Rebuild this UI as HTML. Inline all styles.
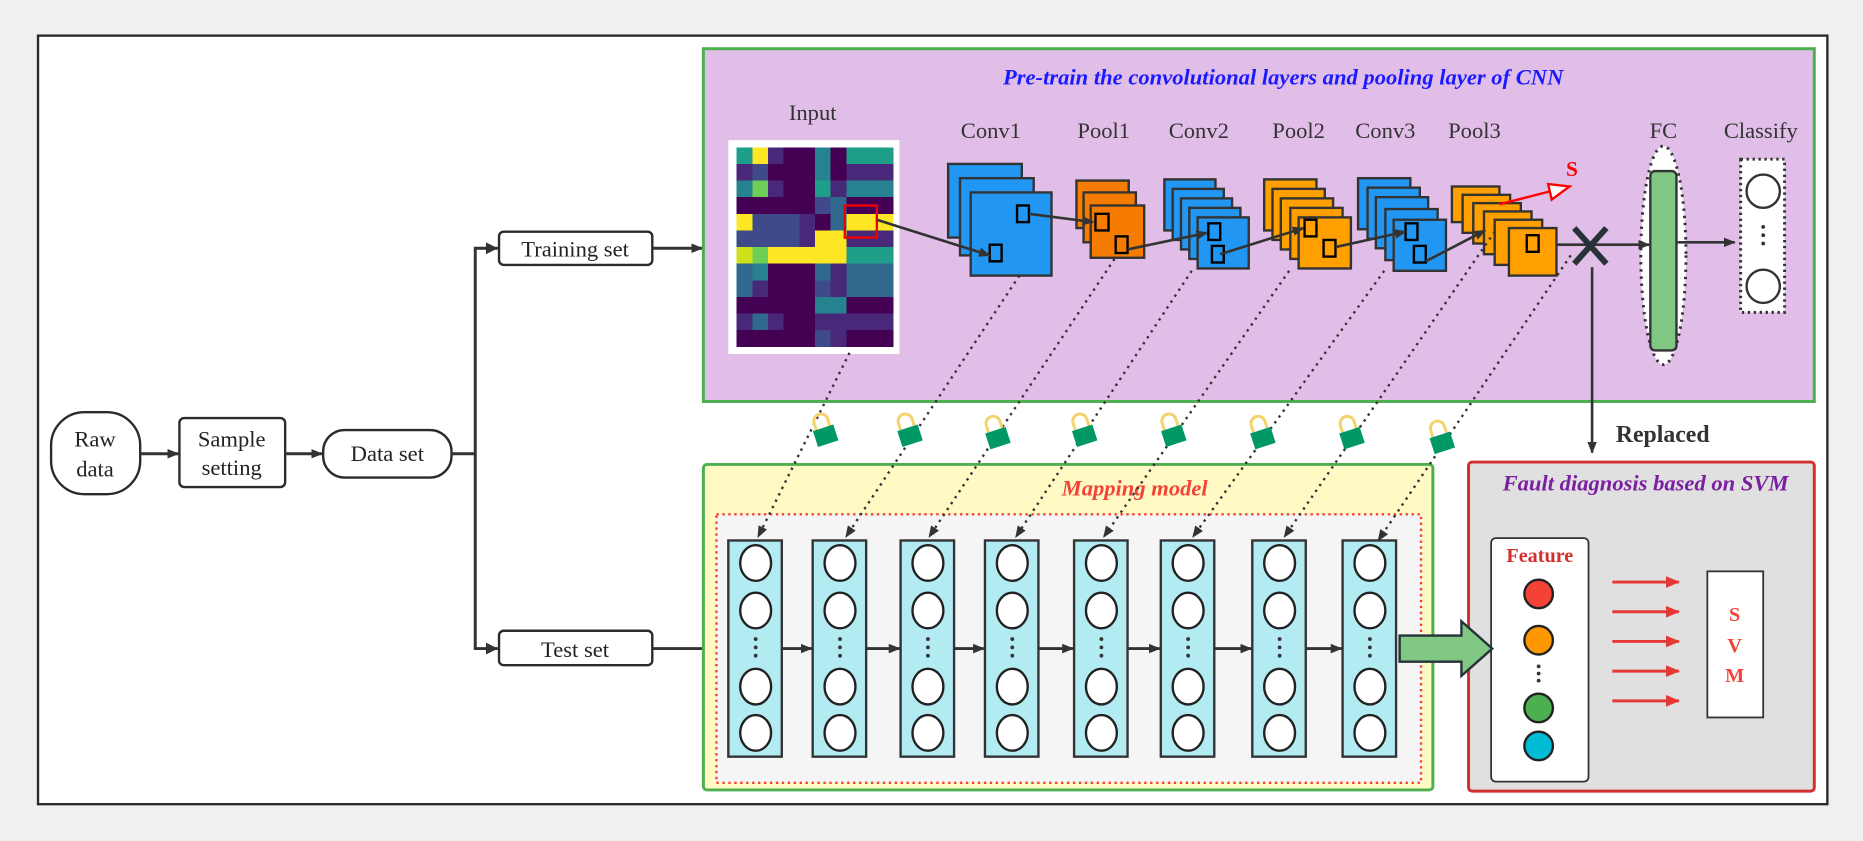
<!DOCTYPE html>
<html><head><meta charset="utf-8"><style>
html,body{margin:0;padding:0;background:#f0f0f0;}
svg{display:block;}
text{font-family:"Liberation Serif",serif;}
</style></head><body>
<svg width="1863" height="841" viewBox="0 0 1568 708" preserveAspectRatio="none" xmlns="http://www.w3.org/2000/svg">
<defs>
<marker id="a" markerWidth="10" markerHeight="8" refX="9" refY="4" orient="auto" markerUnits="userSpaceOnUse"><path d="M0,0 L10,4 L0,8 Z" fill="#333"/></marker>
<marker id="r" markerWidth="12" markerHeight="10" refX="11" refY="5" orient="auto" markerUnits="userSpaceOnUse"><path d="M0,0 L12,5 L0,10 Z" fill="#e53935"/></marker>
<g id="lock"><path d="M-6,-4 v-6 a6,6 0 0 1 12,0 v6" fill="none" stroke="#f5d36b" stroke-width="2.5"/><rect x="-9" y="-4" width="18" height="14" fill="#009966"/></g>
</defs>
<rect width="1568" height="708" fill="#f0f0f0"/>
<rect x="32" y="30" width="1506" height="647" fill="#fff" stroke="#2b2b2b" stroke-width="2"/>

<!-- left flow -->
<rect x="43" y="347" width="75" height="69" rx="28" fill="#fff" stroke="#2b2b2b" stroke-width="2"/>
<text x="80" y="376" font-size="19" text-anchor="middle" fill="#222">Raw</text>
<text x="80" y="401" font-size="19" text-anchor="middle" fill="#222">data</text>
<rect x="151" y="352" width="89" height="58" rx="4" fill="#fff" stroke="#2b2b2b" stroke-width="2"/>
<text x="195" y="376" font-size="19" text-anchor="middle" fill="#222">Sample</text>
<text x="195" y="400" font-size="19" text-anchor="middle" fill="#222">setting</text>
<rect x="272" y="362" width="108" height="40" rx="18" fill="#fff" stroke="#2b2b2b" stroke-width="2"/>
<text x="326" y="388" font-size="19" text-anchor="middle" fill="#222">Data set</text>
<line x1="118" y1="382" x2="150" y2="382" stroke="#333" stroke-width="2.5" marker-end="url(#a)"/>
<line x1="240" y1="382" x2="271" y2="382" stroke="#333" stroke-width="2.5" marker-end="url(#a)"/>
<path d="M380,382 H400 V209 H419 M400,382 V546 H419" fill="none" stroke="#333" stroke-width="2.5"/>
<path d="M409,204 L419,209 L409,214Z M409,541 L419,546 L409,551Z" fill="#333"/>
<rect x="420" y="195" width="129" height="28" rx="4" fill="#fff" stroke="#2b2b2b" stroke-width="2"/>
<text x="484" y="216" font-size="19" text-anchor="middle" fill="#222">Training set</text>
<rect x="420" y="531" width="129" height="29" rx="4" fill="#fff" stroke="#2b2b2b" stroke-width="2"/>
<text x="484" y="553" font-size="19" text-anchor="middle" fill="#222">Test set</text>
<line x1="549" y1="209" x2="591" y2="209" stroke="#333" stroke-width="2.5" marker-end="url(#a)"/>
<line x1="549" y1="546" x2="602" y2="546" stroke="#333" stroke-width="2.5" marker-end="url(#a)"/>

<!-- purple box -->
<rect x="592" y="41" width="935" height="297" fill="#e1bee7" stroke="#4caf50" stroke-width="2.5"/>
<text x="1080" y="71" font-size="19" font-weight="bold" font-style="italic" text-anchor="middle" fill="#1a1aff">Pre-train the convolutional layers and pooling layer of CNN</text>
<g font-size="19" fill="#333" text-anchor="middle">
<text x="684" y="101">Input</text><text x="834" y="116">Conv1</text><text x="929" y="116">Pool1</text><text x="1009" y="116">Conv2</text><text x="1093" y="116">Pool2</text><text x="1166" y="116">Conv3</text><text x="1241" y="116">Pool3</text><text x="1400" y="116">FC</text><text x="1482" y="116">Classify</text>
</g>

<!-- heatmap -->
<rect x="613" y="118" width="144" height="180" fill="#fff"/>
<g transform="translate(620,124) scale(13.2,14)" shape-rendering="crispEdges">
<rect x="0" y="0" width="10" height="12" fill="#440154"/>
<rect x="0" y="0" width="1" height="1" fill="#1f9e89"/><rect x="1" y="0" width="1" height="1" fill="#fde725"/><rect x="2" y="0" width="1" height="1" fill="#482878"/><rect x="5" y="0" width="1" height="1" fill="#26828e"/><rect x="7" y="0" width="3" height="1" fill="#1f9e89"/>
<rect x="0" y="1" width="1" height="1" fill="#482878"/><rect x="1" y="1" width="1" height="1" fill="#3e4a89"/><rect x="5" y="1" width="1" height="1" fill="#26828e"/><rect x="7" y="1" width="3" height="1" fill="#482878"/>
<rect x="0" y="2" width="1" height="1" fill="#26828e"/><rect x="1" y="2" width="1" height="1" fill="#6ece58"/><rect x="2" y="2" width="1" height="1" fill="#482878"/><rect x="5" y="2" width="1" height="1" fill="#1f9e89"/><rect x="6" y="2" width="1" height="1" fill="#482878"/><rect x="7" y="2" width="3" height="1" fill="#26828e"/>
<rect x="5" y="3" width="1" height="1" fill="#3e4a89"/><rect x="6" y="3" width="1" height="1" fill="#31688e"/>
<rect x="0" y="4" width="1" height="1" fill="#fde725"/><rect x="1" y="4" width="3" height="1" fill="#3e4a89"/><rect x="4" y="4" width="1" height="1" fill="#482878"/><rect x="6" y="4" width="1" height="1" fill="#31688e"/><rect x="7" y="4" width="3" height="1" fill="#fde725"/>
<rect x="0" y="5" width="4" height="1" fill="#3e4a89"/><rect x="4" y="5" width="1" height="1" fill="#482878"/><rect x="5" y="5" width="2" height="1" fill="#fde725"/><rect x="7" y="5" width="3" height="1" fill="#482878"/>
<rect x="0" y="6" width="1" height="1" fill="#d0e11c"/><rect x="1" y="6" width="1" height="1" fill="#6ece58"/><rect x="2" y="6" width="5" height="1" fill="#fde725"/><rect x="7" y="6" width="3" height="1" fill="#1f9e89"/>
<rect x="0" y="7" width="1" height="1" fill="#31688e"/><rect x="1" y="7" width="1" height="1" fill="#26828e"/><rect x="5" y="7" width="1" height="1" fill="#31688e"/><rect x="6" y="7" width="1" height="1" fill="#482878"/><rect x="7" y="7" width="3" height="1" fill="#31688e"/>
<rect x="0" y="8" width="1" height="1" fill="#31688e"/><rect x="1" y="8" width="1" height="1" fill="#482878"/><rect x="5" y="8" width="1" height="1" fill="#3e4a89"/><rect x="6" y="8" width="1" height="1" fill="#482878"/><rect x="7" y="8" width="3" height="1" fill="#31688e"/>
<rect x="5" y="9" width="2" height="1" fill="#26828e"/>
<rect x="0" y="10" width="1" height="1" fill="#482878"/><rect x="1" y="10" width="1" height="1" fill="#31688e"/><rect x="2" y="10" width="1" height="1" fill="#482878"/><rect x="5" y="10" width="5" height="1" fill="#482878"/>
<rect x="5" y="11" width="1" height="1" fill="#3e4a89"/><rect x="6" y="11" width="1" height="1" fill="#482878"/>
</g>
<rect x="711" y="173" width="27" height="27" fill="none" stroke="#e00" stroke-width="2"/>

<!-- CNN blocks -->
<g stroke="#333" stroke-width="2">
<g fill="#2196f3"><rect x="798" y="138" width="62" height="62"/><rect x="808" y="150" width="62" height="65"/><rect x="817" y="162" width="68" height="70"/></g>
<g fill="#f57c00"><rect x="906" y="152" width="44" height="40"/><rect x="912" y="162" width="44" height="42"/><rect x="918" y="173" width="45" height="44"/></g>
<g fill="#2196f3"><rect x="980" y="151" width="43" height="43"/><rect x="987" y="159" width="43" height="43"/><rect x="994" y="167" width="43" height="43"/><rect x="1001" y="175" width="43" height="43"/><rect x="1008" y="183" width="43" height="43"/></g>
<g fill="#ffa000"><rect x="1064" y="151" width="44" height="43"/><rect x="1071" y="159" width="44" height="43"/><rect x="1078" y="167" width="44" height="43"/><rect x="1086" y="175" width="44" height="43"/><rect x="1093" y="183" width="44" height="43"/></g>
<g fill="#2196f3"><rect x="1143" y="150" width="44" height="43"/><rect x="1151" y="158" width="44" height="43"/><rect x="1158" y="166" width="44" height="43"/><rect x="1166" y="176" width="44" height="43"/><rect x="1173" y="185" width="44" height="43"/></g>
<g fill="#ffa000"><rect x="1222" y="157" width="40" height="30"/><rect x="1231" y="164" width="40" height="32"/><rect x="1240" y="171" width="40" height="34"/><rect x="1249" y="178" width="40" height="36"/><rect x="1258" y="185" width="40" height="38"/><rect x="1270" y="192" width="40" height="40"/></g>
</g>
<g fill="none" stroke="#000" stroke-width="2">
<rect x="856" y="173" width="10" height="14"/><rect x="833" y="206" width="10" height="14"/>
<rect x="922" y="180" width="11" height="14"/><rect x="939" y="199" width="10" height="14"/>
<rect x="1017" y="188" width="10" height="14"/><rect x="1020" y="207" width="10" height="14"/>
<rect x="1098" y="185" width="10" height="14"/><rect x="1114" y="202" width="10" height="14"/>
<rect x="1183" y="188" width="10" height="14"/><rect x="1190" y="207" width="10" height="14"/>
<rect x="1285" y="198" width="10" height="14"/>
</g>
<ellipse cx="1400" cy="215" rx="19" ry="92" fill="#fff" stroke="#333" stroke-width="2.5" stroke-dasharray="2,4"/>
<rect x="1389" y="144" width="22" height="151" rx="4" fill="#81c784" stroke="#333" stroke-width="2"/>
<g stroke="#333" stroke-width="2.2" marker-end="url(#a)">
<line x1="738" y1="185" x2="833" y2="215"/>
<line x1="866" y1="180" x2="920" y2="187"/>
<line x1="949" y1="210" x2="1016" y2="196"/>
<line x1="1027" y1="214" x2="1097" y2="192"/>
<line x1="1124" y1="208" x2="1183" y2="195"/>
<line x1="1200" y1="220" x2="1250" y2="194"/>
<line x1="1310" y1="206" x2="1388" y2="206"/>
<line x1="1412" y1="204" x2="1460" y2="204"/>
<line x1="1340" y1="225" x2="1340" y2="381"/>
</g>
<path d="M1325,192 L1352,222 M1352,192 L1325,222" stroke="#263238" stroke-width="5"/>
<line x1="1262" y1="172" x2="1305" y2="161" stroke="#f00" stroke-width="2"/>
<path d="M1303,155 L1321,157 L1306,168 Z" fill="#fff" stroke="#f00" stroke-width="2"/>
<text x="1323" y="148" font-family="Liberation Sans,sans-serif" font-size="18" font-weight="bold" fill="#f00" text-anchor="middle">S</text>
<rect x="1465" y="134" width="37" height="129" fill="#fff" stroke="#333" stroke-width="2.5" stroke-dasharray="2,3"/>
<circle cx="1484" cy="161" r="14" fill="#fff" stroke="#333" stroke-width="2"/>
<circle cx="1484" cy="241" r="14" fill="#fff" stroke="#333" stroke-width="2"/>
<g fill="#333"><circle cx="1484" cy="191" r="1.6"/><circle cx="1484" cy="198" r="1.6"/><circle cx="1484" cy="205" r="1.6"/></g>
<text x="1360" y="372" font-size="20" font-weight="bold" fill="#333">Replaced</text>

<!-- mapping box -->
<rect x="592" y="391" width="614" height="274" rx="3" fill="#fff9c4" stroke="#4caf50" stroke-width="2.5"/>
<rect x="603" y="433" width="593" height="226" fill="#f5f5f5" stroke="#f44336" stroke-width="2" stroke-dasharray="2,3"/>
<text x="955" y="417" font-size="19" font-weight="bold" font-style="italic" text-anchor="middle" fill="#f44336">Mapping model</text>
<g stroke="#333" stroke-width="2" fill="#b2ebf2">
<rect x="613" y="455" width="45" height="182"/><rect x="684" y="455" width="45" height="182"/><rect x="758" y="455" width="45" height="182"/><rect x="829" y="455" width="45" height="182"/><rect x="904" y="455" width="45" height="182"/><rect x="977" y="455" width="45" height="182"/><rect x="1054" y="455" width="45" height="182"/><rect x="1130" y="455" width="45" height="182"/>
</g>
<g fill="#fff" stroke="#222" stroke-width="2">
<g id="c1"><ellipse cx="636" cy="474" rx="13" ry="15"/><ellipse cx="636" cy="514" rx="13" ry="15"/><ellipse cx="636" cy="578" rx="13" ry="15"/><ellipse cx="636" cy="617" rx="13" ry="15"/></g>
<use href="#c1" x="71"/><use href="#c1" x="145"/><use href="#c1" x="216"/><use href="#c1" x="291"/><use href="#c1" x="364"/><use href="#c1" x="441"/><use href="#c1" x="517"/>
</g>
<g fill="#333"><g id="d1"><circle cx="636" cy="538" r="1.6"/><circle cx="636" cy="545" r="1.6"/><circle cx="636" cy="552" r="1.6"/></g>
<use href="#d1" x="71"/><use href="#d1" x="145"/><use href="#d1" x="216"/><use href="#d1" x="291"/><use href="#d1" x="364"/><use href="#d1" x="441"/><use href="#d1" x="517"/></g>
<g stroke="#333" stroke-width="2.5" marker-end="url(#a)">
<line x1="658" y1="546" x2="683" y2="546"/><line x1="729" y1="546" x2="757" y2="546"/><line x1="803" y1="546" x2="828" y2="546"/><line x1="874" y1="546" x2="903" y2="546"/><line x1="949" y1="546" x2="976" y2="546"/><line x1="1022" y1="546" x2="1053" y2="546"/><line x1="1099" y1="546" x2="1129" y2="546"/>
</g>

<!-- dotted lines -->
<g stroke="#333" stroke-width="2" stroke-dasharray="2,4" marker-end="url(#a)">
<line x1="715" y1="297" x2="638" y2="452"/>
<line x1="858" y1="232" x2="712" y2="452"/>
<line x1="938" y1="218" x2="782" y2="452"/>
<line x1="1003" y1="228" x2="855" y2="452"/>
<line x1="1085" y1="228" x2="929" y2="452"/>
<line x1="1165" y1="228" x2="1004" y2="452"/>
<line x1="1258" y1="195" x2="1081" y2="452"/>
<line x1="1322" y1="215" x2="1160" y2="455"/>
</g>
<g>
<use href="#lock" transform="translate(694,364) rotate(-18)"/>
<use href="#lock" transform="translate(765,364) rotate(-18)"/>
<use href="#lock" transform="translate(839,366) rotate(-18)"/>
<use href="#lock" transform="translate(912,364) rotate(-18)"/>
<use href="#lock" transform="translate(987,364) rotate(-18)"/>
<use href="#lock" transform="translate(1062,366) rotate(-18)"/>
<use href="#lock" transform="translate(1137,366) rotate(-18)"/>
<use href="#lock" transform="translate(1213,370) rotate(-18)"/>
</g>

<!-- SVM box -->
<rect x="1236" y="389" width="291" height="277" rx="3" fill="#e0e0e0" stroke="#d32f2f" stroke-width="2.5"/>
<text x="1385" y="413" font-size="19" font-weight="bold" font-style="italic" text-anchor="middle" fill="#7b1fa2">Fault diagnosis based on SVM</text>
<rect x="1255" y="453" width="82" height="205" rx="4" fill="#fff" stroke="#333" stroke-width="1.5"/>
<text x="1296" y="473" font-size="17" font-weight="bold" text-anchor="middle" fill="#d32f2f">Feature</text>
<g stroke="#222" stroke-width="2">
<circle cx="1295" cy="500" r="12" fill="#f44336"/><circle cx="1295" cy="539" r="12" fill="#ff9800"/><circle cx="1295" cy="596" r="12" fill="#4caf50"/><circle cx="1295" cy="628" r="12" fill="#00bcd4"/></g>
<g fill="#333"><circle cx="1295" cy="561" r="1.6"/><circle cx="1295" cy="567" r="1.6"/><circle cx="1295" cy="573" r="1.6"/></g>
<g stroke="#e53935" stroke-width="2.5" marker-end="url(#r)">
<line x1="1357" y1="490" x2="1413" y2="490"/><line x1="1357" y1="515" x2="1413" y2="515"/><line x1="1357" y1="540" x2="1413" y2="540"/><line x1="1357" y1="565" x2="1413" y2="565"/><line x1="1357" y1="590" x2="1413" y2="590"/></g>
<rect x="1437" y="481" width="47" height="123" fill="#fff" stroke="#333" stroke-width="1.5"/>
<g font-size="17" font-weight="bold" fill="#f44336" text-anchor="middle"><text x="1460" y="523">S</text><text x="1460" y="549">V</text><text x="1460" y="574">M</text></g>

<!-- big green arrow (on top) -->
<path d="M1178,535 H1230 V523 L1256,546 L1230,569 V557 H1178 Z" fill="#81c784" stroke="#263238" stroke-width="2"/>
</svg>
</body></html>
